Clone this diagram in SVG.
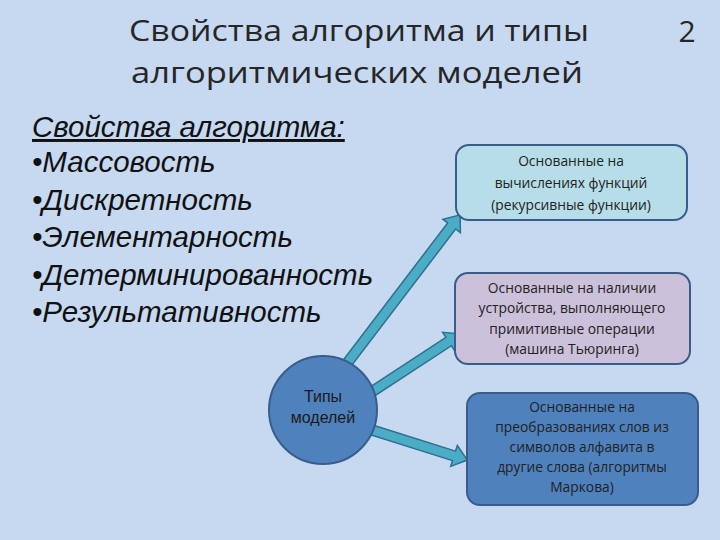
<svg xmlns="http://www.w3.org/2000/svg" width="720" height="540" viewBox="0 0 720 540">
<style>
.title{font-family:"Open Sans","Liberation Sans",sans-serif;font-size:30px;fill:#262626;text-anchor:middle}
.list{font-family:"Liberation Sans","DejaVu Sans",sans-serif;font-style:italic;font-size:29.5px;fill:#111}
.box{stroke:#385d8a;stroke-width:2}
.bt{font-family:"Open Sans","Liberation Sans",sans-serif;font-size:13.8px;fill:#222;text-anchor:middle}
.arrow{fill:#4bacc6;stroke:#2f6f8f;stroke-width:1.5;stroke-linejoin:miter}
.ct{font-family:"Liberation Sans",sans-serif;font-size:16px;fill:#1a1a1a;text-anchor:middle}
</style>
<rect width="720" height="540" fill="#c6d9f1"/>
<g id="title">
<text class="title" x="359" y="41" textLength="460" lengthAdjust="spacingAndGlyphs">Свойства алгоритма и типы</text>
<text class="title" x="357" y="83" textLength="452" lengthAdjust="spacingAndGlyphs">алгоритмических моделей</text>
<text class="title" x="687" y="42">2</text>
</g>
<g id="properties">
<text class="list" x="32" y="137" text-decoration="underline">Свойства алгоритма:</text>
<text class="list" x="32" y="172">•Массовость</text>
<text class="list" x="32" y="210">•Дискретность</text>
<text class="list" x="32" y="247">•Элементарность</text>
<text class="list" x="32" y="285">•Детерминированность</text>
<text class="list" x="32" y="322">•Результативность</text>
</g>
<g id="connectors">
<polygon class="arrow" transform="translate(345,366) rotate(-52.7)" points="0,-5 176,-5 176,-11 190,0 176,11 176,5 0,5"/>
<polygon class="arrow" transform="translate(370,393) rotate(-33.2)" points="0,-5 94,-5 94,-11 108,0 94,11 94,5 0,5"/>
<polygon class="arrow" transform="translate(372,430) rotate(17.5)" points="0,-5 86,-5 86,-11 100,0 86,11 86,5 0,5"/>
</g>
<g id="types">
<circle class="box" cx="323" cy="410" r="54" fill="#4f81bd"/>
<text class="ct" x="323" y="402">Типы</text>
<text class="ct" x="323" y="423">моделей</text>
</g>
<g id="box1">
<rect class="box" x="456" y="145" width="231" height="75" rx="13" fill="#b7dee8"/>
<text class="bt" x="571" y="166">Основанные на</text>
<text class="bt" x="571" y="188">вычислениях функций</text>
<text class="bt" x="571" y="210">(рекурсивные функции)</text>
</g>
<g id="box2">
<rect class="box" x="455" y="273" width="235" height="91" rx="13" fill="#ccc1da"/>
<text class="bt" x="572" y="293">Основанные на наличии</text>
<text class="bt" x="572" y="313">устройства, выполняющего</text>
<text class="bt" x="572" y="334">примитивные операции</text>
<text class="bt" x="572" y="354">(машина Тьюринга)</text>
</g>
<g id="box3">
<rect class="box" x="467" y="393" width="231" height="112" rx="13" fill="#4f81bd"/>
<text class="bt" x="582" y="412">Основанные на</text>
<text class="bt" x="582" y="432">преобразованиях слов из</text>
<text class="bt" x="582" y="452">символов алфавита в</text>
<text class="bt" x="582" y="472">другие слова (алгоритмы</text>
<text class="bt" x="582" y="492">Маркова)</text>
</g>
</svg>
